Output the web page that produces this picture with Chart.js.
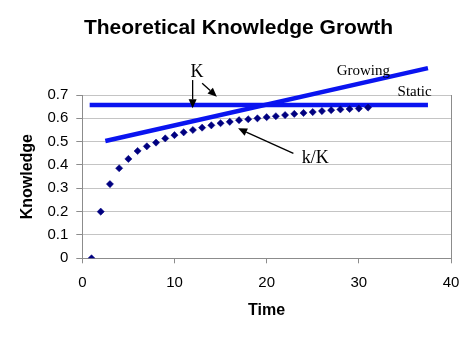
<!DOCTYPE html>
<html>
<head>
<meta charset="utf-8">
<script src="https://cdn.jsdelivr.net/npm/chart.js@4.4.1/dist/chart.umd.min.js"></script>
<style>
  html, body { margin: 0; padding: 0; background: #ffffff; }
  #wrap { width: 474px; height: 339px; }
</style>
</head>
<body>
<div id="wrap"><canvas id="chart" width="474" height="339"></canvas></div>
<script>
// =========================
// DATA
// =========================

const timeSteps = [1, 2, 3, 4, 5, 6, 7, 8, 9, 10, 11, 12, 13, 14, 15, 16,
  17, 18, 19, 20, 21, 22, 23, 24, 25, 26, 27, 28, 29, 30, 31];

const kOverK = [0, 0.2, 0.318, 0.386, 0.426, 0.46, 0.48, 0.496, 0.514, 0.528,
  0.54, 0.55, 0.56, 0.57, 0.579, 0.585, 0.592, 0.596, 0.6, 0.605, 0.609,
  0.614, 0.619, 0.623, 0.627, 0.631, 0.635, 0.638, 0.64, 0.642, 0.646];

const staticX = [0.8, 37.5];
const staticY = [0.657, 0.657];

const growingX = [2.5, 37.5];
const growingY = [0.503, 0.815];

const yTicks = [0, 0.1, 0.2, 0.3, 0.4, 0.5, 0.6, 0.7];
const xTicks = [0, 10, 20, 30, 40];

// labels and arrows, in data units
const notes = [
  { text: "K", x: 12.45, y: 0.778, align: "center", size: 18 },
  { text: "Growing", x: 27.6, y: 0.786, align: "left", size: 15 },
  { text: "Static", x: 34.2, y: 0.697, align: "left", size: 15 },
  { text: "k/K", x: 23.8, y: 0.407, align: "left", size: 18 },
];

const arrows = [
  { from: [11.97, 0.764], to: [11.97, 0.643] },
  { from: [13.0, 0.75], to: [14.6, 0.693] },
  { from: [22.9, 0.45], to: [16.9, 0.557] },
];

const toPoints = (xs, ys) => xs.map((x, i) => ({ x: x, y: ys[i] }));

// =========================
// ANNOTATIONS
// =========================

const notesPlugin = {
  id: "notes",
  afterDatasetsDraw(chart) {
    const ctx = chart.ctx;
    const xs = chart.scales.x;
    const ys = chart.scales.y;
    ctx.save();
    ctx.fillStyle = "#000";
    ctx.strokeStyle = "#000";
    ctx.textBaseline = "alphabetic";
    notes.forEach((n) => {
      ctx.font = n.size + "px 'Liberation Serif', 'Times New Roman', serif";
      ctx.textAlign = n.align;
      ctx.fillText(n.text, xs.getPixelForValue(n.x), ys.getPixelForValue(n.y));
    });
    ctx.lineWidth = 1.3;
    arrows.forEach((a) => {
      const x1 = xs.getPixelForValue(a.from[0]);
      const y1 = ys.getPixelForValue(a.from[1]);
      const x2 = xs.getPixelForValue(a.to[0]);
      const y2 = ys.getPixelForValue(a.to[1]);
      const ang = Math.atan2(y2 - y1, x2 - x1);
      const len = 9, half = 4;
      const bx = x2 - len * Math.cos(ang);
      const by = y2 - len * Math.sin(ang);
      ctx.beginPath();
      ctx.moveTo(x1, y1);
      ctx.lineTo(bx, by);
      ctx.stroke();
      ctx.beginPath();
      ctx.moveTo(x2, y2);
      ctx.lineTo(bx + half * Math.sin(ang), by - half * Math.cos(ang));
      ctx.lineTo(bx - half * Math.sin(ang), by + half * Math.cos(ang));
      ctx.closePath();
      ctx.fill();
    });
    ctx.restore();
  },
};

const whiteBg = {
  id: "whiteBg",
  beforeDraw(chart) {
    const ctx = chart.ctx;
    ctx.save();
    ctx.fillStyle = "#ffffff";
    ctx.fillRect(0, 0, chart.width, chart.height);
    ctx.restore();
  },
};

// =========================
// CHART
// =========================

const sans = "'Liberation Sans', Arial, Helvetica, sans-serif";

const chart = new Chart(document.getElementById("chart"), {
  type: "scatter",
  data: {
    datasets: [
      {
        label: "k/K",
        data: toPoints(timeSteps, kOverK),
        showLine: false,
        pointStyle: "rectRot",
        pointRadius: 3.6,
        pointBackgroundColor: "#000080",
        pointBorderColor: "#000080",
        pointBorderWidth: 0.5,
      },
      {
        label: "Static",
        data: toPoints(staticX, staticY),
        showLine: true,
        borderColor: "#0a14f0",
        borderWidth: 4.5,
        pointRadius: 0,
        borderCapStyle: "butt",
      },
      {
        label: "Growing",
        data: toPoints(growingX, growingY),
        showLine: true,
        borderColor: "#0a14f0",
        borderWidth: 4.5,
        pointRadius: 0,
        borderCapStyle: "butt",
        clip: false,
      },
    ],
  },
  options: {
    responsive: false,
    animation: false,
    layout: { padding: { left: 26, right: 23, top: 0, bottom: 0 } },
    plugins: {
      legend: { display: false },
      tooltip: { enabled: false },
      title: {
        display: true,
        text: "Theoretical Knowledge Growth",
        color: "#000",
        font: { family: sans, size: 21, weight: "bold" },
        padding: { top: 15.5, bottom: 54.3 },
      },
    },
    scales: {
      x: {
        type: "linear",
        min: 0,
        max: 40,
        afterBuildTicks: (s) => { s.ticks = xTicks.map((v) => ({ value: v })); },
        afterFit: (s) => {
          s.height = 80.7;
          s.paddingLeft = 0;
          s.paddingRight = 0;
        },
        ticks: {
          color: "#000",
          font: { family: sans, size: 15 },
          padding: 11,
          maxRotation: 0,
        },
        grid: {
          color: (c) => (c.tick && c.tick.value === 40 ? "#8c8c8c" : "rgba(0,0,0,0)"),
          tickColor: "#8c8c8c",
          tickLength: 5,
          lineWidth: 1,
        },
        border: { color: "#8c8c8c", width: 1 },
        title: {
          display: true,
          text: "Time",
          color: "#000",
          font: { family: sans, size: 16, weight: "bold" },
          padding: { top: 0, bottom: 18.7 },
        },
      },
      y: {
        type: "linear",
        min: 0,
        max: 0.7,
        afterBuildTicks: (s) => { s.ticks = yTicks.map((v) => ({ value: v })); },
        afterFit: (s) => {
          s.width = 56.3;
          s.paddingTop = 0;
          s.paddingBottom = 0;
        },
        ticks: {
          color: "#000",
          font: { family: sans, size: 15 },
          padding: 8,
          callback: (v) => String(Math.round(v * 10) / 10),
        },
        grid: {
          color: "#c4c4c4",
          tickColor: "#8c8c8c",
          tickLength: 6,
          lineWidth: 1,
        },
        border: { color: "#8c8c8c", width: 1 },
        title: {
          display: true,
          text: "Knowledge",
          color: "#000",
          font: { family: sans, size: 16, weight: "bold" },
          padding: { top: -7.6, bottom: 0 },
        },
      },
    },
  },
  plugins: [whiteBg, notesPlugin],
});
</script>
</body>
</html>
